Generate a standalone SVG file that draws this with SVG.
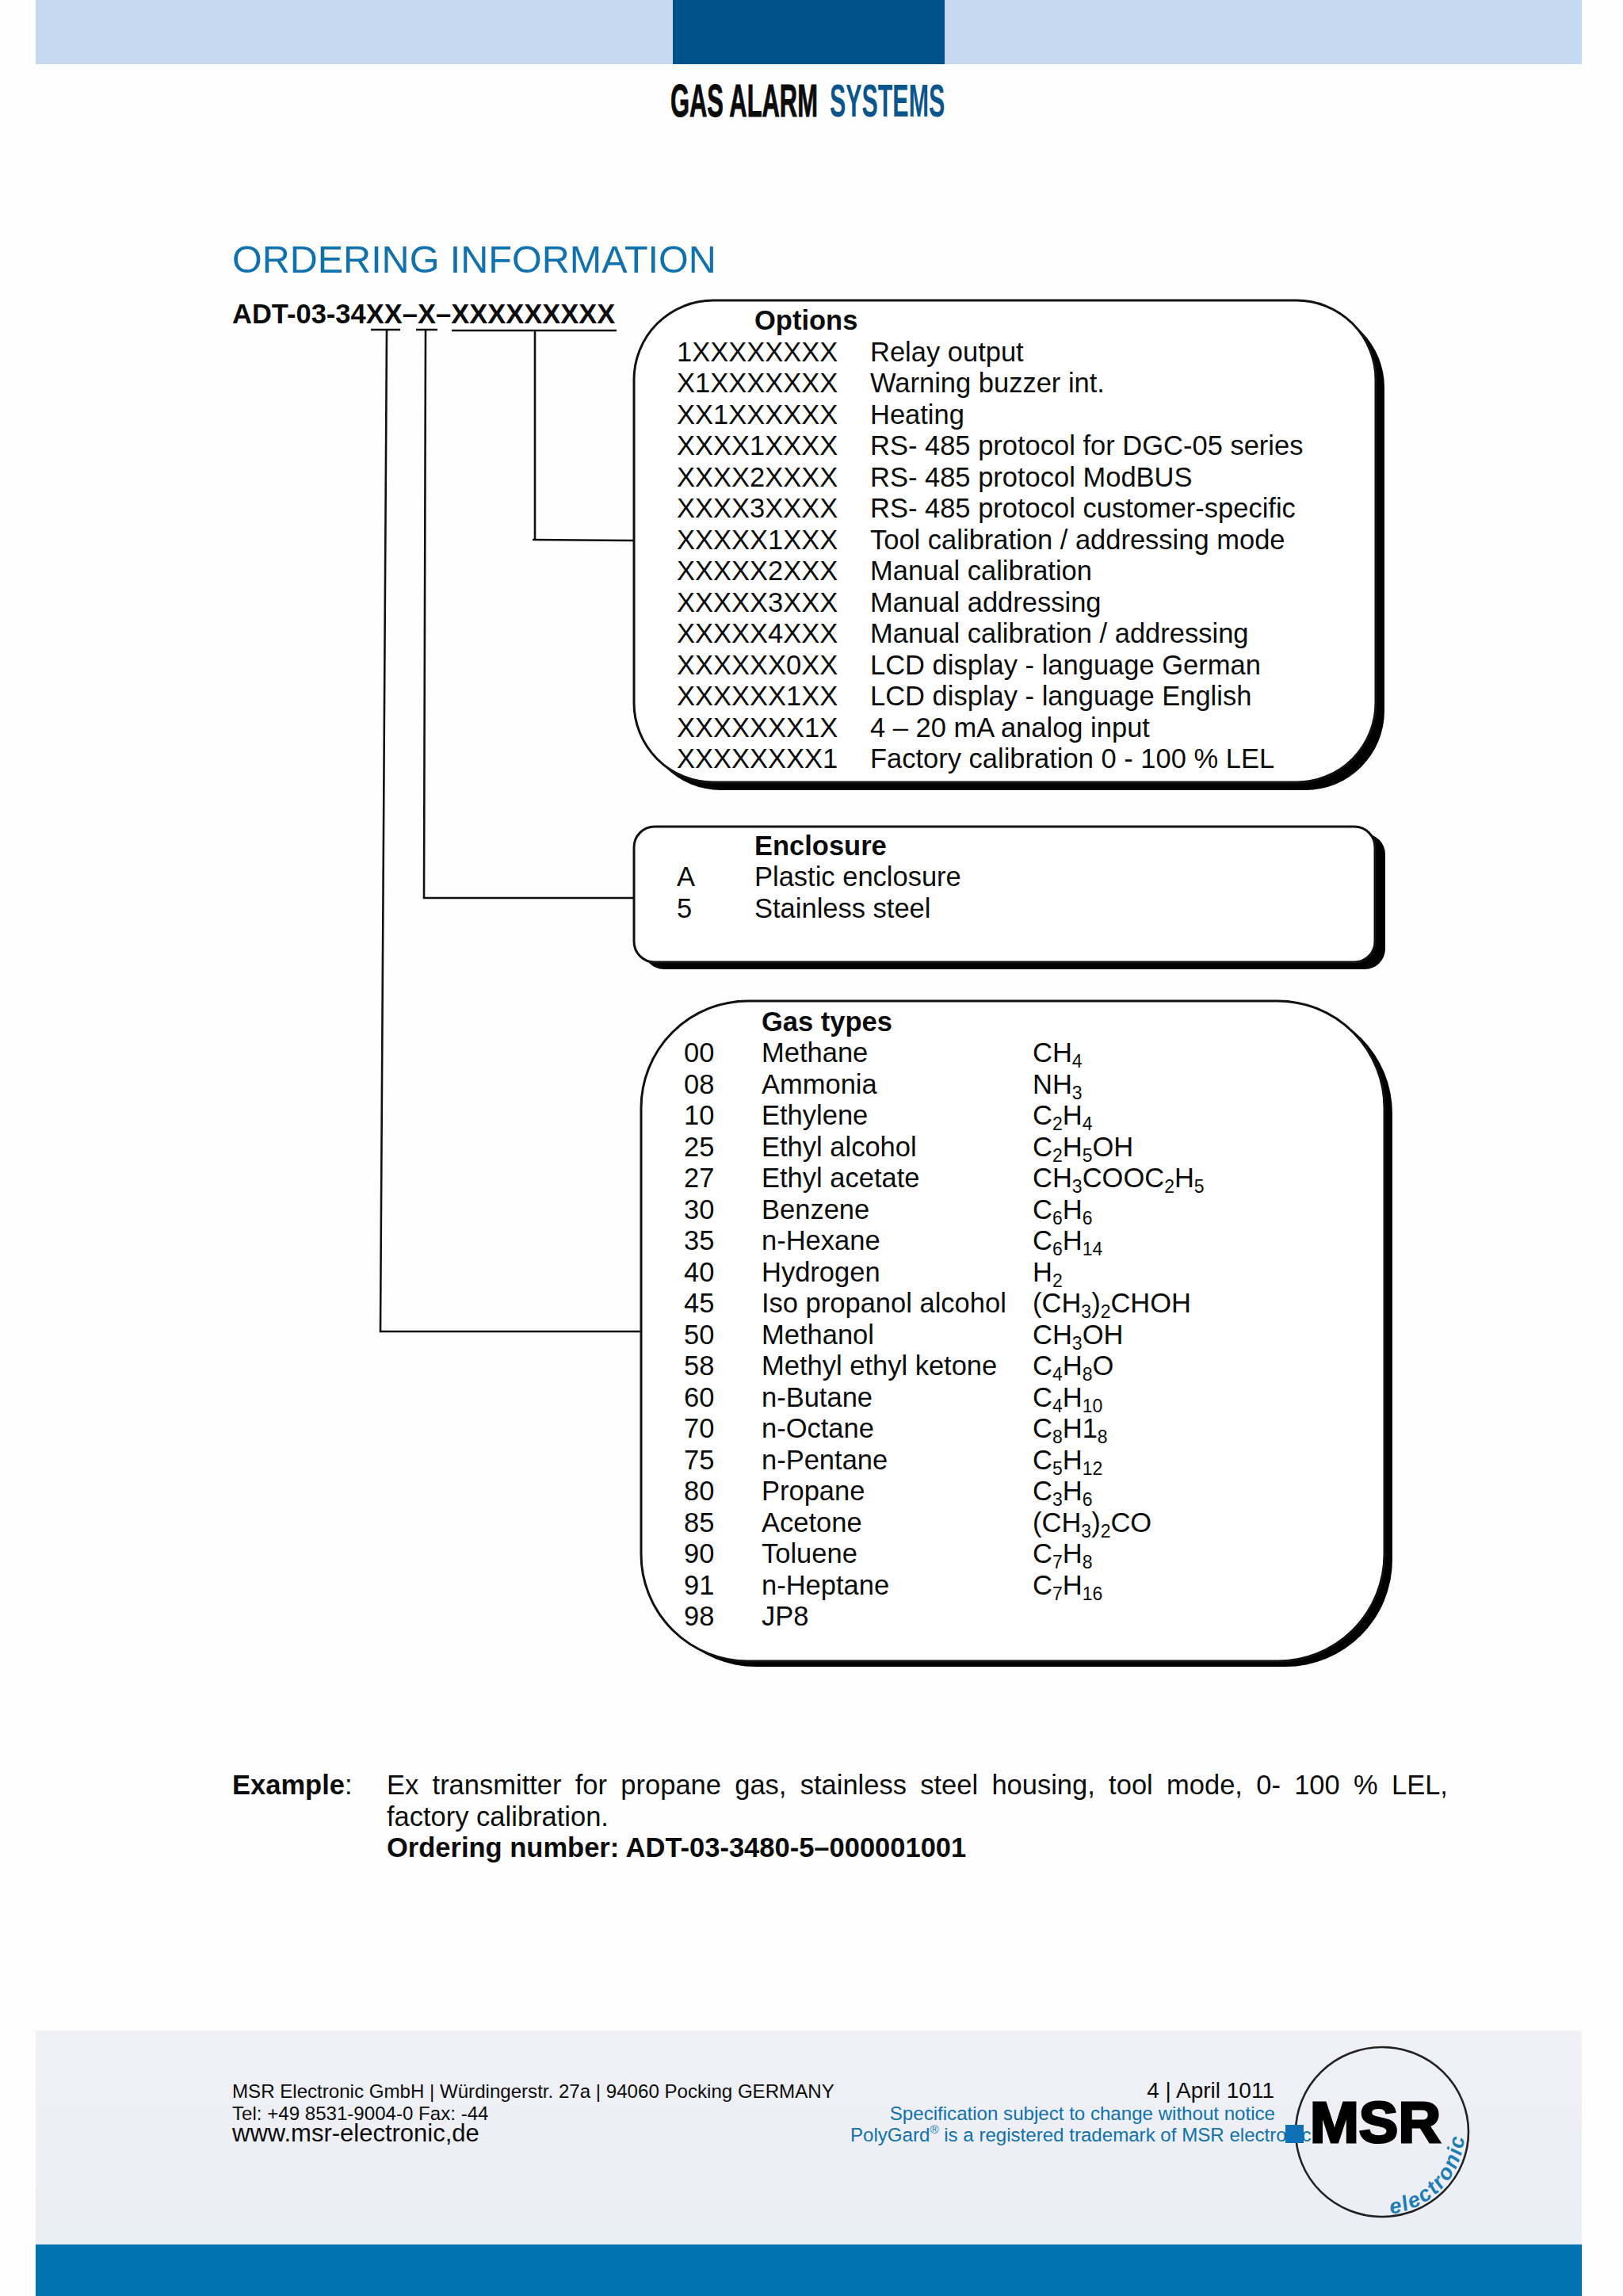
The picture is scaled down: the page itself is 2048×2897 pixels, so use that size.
<svg xmlns="http://www.w3.org/2000/svg" width="2048" height="2897" viewBox="0 0 2048 2897">
<defs>
<linearGradient id="fg" x1="0" y1="0" x2="0" y2="1"><stop offset="0" stop-color="#f0f1f6"/><stop offset="0.9" stop-color="#ebeef5"/><stop offset="1" stop-color="#e9f0f5"/></linearGradient>
<path id="arc" d="M1755 2793.4 A104 104 0 0 0 1846.4 2672"/>
</defs>
<style>
text{font-family:"Liberation Sans",Arial,sans-serif;fill:#0c0c0c}
.r{font-size:34.5px}
.b{font-size:34.5px;font-weight:700}
.s{font-size:23px}
.box{fill:#fff;stroke:#111;stroke-width:3}
.sh{fill:#000}
.ln{fill:none;stroke:#111;stroke-width:2.6}
.blue{fill:#0f71ad}
</style>
<rect width="2048" height="2897" fill="#fefefe"/>
<g id="header">
<rect x="45" y="0" width="1951" height="81" fill="#c5daf0"/>
<rect x="849" y="0" width="343" height="81" fill="#00538a"/>
<text transform="translate(846 147) scale(.55 1)" font-size="58" font-weight="700" textLength="338" lengthAdjust="spacingAndGlyphs" style="stroke:#0c0c0c;stroke-width:1">GAS ALARM</text>
<text transform="translate(1047 147) scale(.53 1)" font-size="58" font-weight="700" textLength="274" lengthAdjust="spacingAndGlyphs" style="fill:#0a568c">SYSTEMS</text>
</g>
<text id="title" x="293" y="344" font-size="48.5" class="blue">ORDERING INFORMATION</text>
<text id="code" x="293" y="408" class="b">ADT-03-34XX–X–XXXXXXXXX</text>
<g id="connectors">
<path class="ln" d="M468 416H505M525 416H552M570 417H778"/>
<path class="ln" d="M488 416L480 1680H810"/>
<path class="ln" d="M537 416L535 1133H800"/>
<path class="ln" d="M675 418V681M672 681L800 682"/>
</g>
<g id="options">
<rect class="sh" x="810" y="389" width="937" height="608" rx="100"/>
<rect class="box" x="800" y="379" width="936" height="608" rx="100"/>
<text class="b" x="952" y="416">Options</text>
<text class="r" x="854" y="456">1XXXXXXXX</text><text class="r" x="1098" y="456">Relay output</text>
<text class="r" x="854" y="495">X1XXXXXXX</text><text class="r" x="1098" y="495">Warning buzzer int.</text>
<text class="r" x="854" y="535">XX1XXXXXX</text><text class="r" x="1098" y="535">Heating</text>
<text class="r" x="854" y="574">XXXX1XXXX</text><text class="r" x="1098" y="574">RS- 485 protocol for DGC-05 series</text>
<text class="r" x="854" y="614">XXXX2XXXX</text><text class="r" x="1098" y="614">RS- 485 protocol ModBUS</text>
<text class="r" x="854" y="653">XXXX3XXXX</text><text class="r" x="1098" y="653">RS- 485 protocol customer-specific</text>
<text class="r" x="854" y="693">XXXXX1XXX</text><text class="r" x="1098" y="693">Tool calibration / addressing mode</text>
<text class="r" x="854" y="732">XXXXX2XXX</text><text class="r" x="1098" y="732">Manual calibration</text>
<text class="r" x="854" y="772">XXXXX3XXX</text><text class="r" x="1098" y="772">Manual addressing</text>
<text class="r" x="854" y="811">XXXXX4XXX</text><text class="r" x="1098" y="811">Manual calibration / addressing</text>
<text class="r" x="854" y="851">XXXXXX0XX</text><text class="r" x="1098" y="851">LCD display - language German</text>
<text class="r" x="854" y="890">XXXXXX1XX</text><text class="r" x="1098" y="890">LCD display - language English</text>
<text class="r" x="854" y="930">XXXXXXX1X</text><text class="r" x="1098" y="930">4 – 20 mA analog input</text>
<text class="r" x="854" y="969">XXXXXXXX1</text><text class="r" x="1098" y="969">Factory calibration 0 - 100 % LEL</text>
</g>
<g id="enclosure">
<rect class="sh" x="812" y="1052" width="936" height="171" rx="26"/>
<rect class="box" x="800" y="1043" width="935" height="171" rx="26"/>
<text class="b" x="952" y="1079">Enclosure</text>
<text class="r" x="854" y="1118">A</text><text class="r" x="952" y="1118">Plastic enclosure</text>
<text class="r" x="854" y="1158">5</text><text class="r" x="952" y="1158">Stainless steel</text>
</g>
<g id="gas-types">
<rect class="sh" x="819" y="1270" width="938" height="833" rx="135"/>
<rect class="box" x="809" y="1263" width="938" height="833" rx="135"/>
<g transform="translate(0 2)">
<text class="b" x="961" y="1299">Gas types</text>
<text class="r" x="863" y="1338">00</text><text class="r" x="961" y="1338">Methane</text><text class="r" x="1303" y="1338">CH<tspan class="s" dy="7">4</tspan></text>
<text class="r" x="863" y="1378">08</text><text class="r" x="961" y="1378">Ammonia</text><text class="r" x="1303" y="1378">NH<tspan class="s" dy="7">3</tspan></text>
<text class="r" x="863" y="1417">10</text><text class="r" x="961" y="1417">Ethylene</text><text class="r" x="1303" y="1417">C<tspan class="s" dy="7">2</tspan><tspan dy="-7">H</tspan><tspan class="s" dy="7">4</tspan></text>
<text class="r" x="863" y="1457">25</text><text class="r" x="961" y="1457">Ethyl alcohol</text><text class="r" x="1303" y="1457">C<tspan class="s" dy="7">2</tspan><tspan dy="-7">H</tspan><tspan class="s" dy="7">5</tspan><tspan dy="-7">OH</tspan></text>
<text class="r" x="863" y="1496">27</text><text class="r" x="961" y="1496">Ethyl acetate</text><text class="r" x="1303" y="1496">CH<tspan class="s" dy="7">3</tspan><tspan dy="-7">COOC</tspan><tspan class="s" dy="7">2</tspan><tspan dy="-7">H</tspan><tspan class="s" dy="7">5</tspan></text>
<text class="r" x="863" y="1536">30</text><text class="r" x="961" y="1536">Benzene</text><text class="r" x="1303" y="1536">C<tspan class="s" dy="7">6</tspan><tspan dy="-7">H</tspan><tspan class="s" dy="7">6</tspan></text>
<text class="r" x="863" y="1575">35</text><text class="r" x="961" y="1575">n-Hexane</text><text class="r" x="1303" y="1575">C<tspan class="s" dy="7">6</tspan><tspan dy="-7">H</tspan><tspan class="s" dy="7">14</tspan></text>
<text class="r" x="863" y="1615">40</text><text class="r" x="961" y="1615">Hydrogen</text><text class="r" x="1303" y="1615">H<tspan class="s" dy="7">2</tspan></text>
<text class="r" x="863" y="1654">45</text><text class="r" x="961" y="1654">Iso propanol alcohol</text><text class="r" x="1303" y="1654">(CH<tspan class="s" dy="7">3</tspan><tspan dy="-7">)</tspan><tspan class="s" dy="7">2</tspan><tspan dy="-7">CHOH</tspan></text>
<text class="r" x="863" y="1694">50</text><text class="r" x="961" y="1694">Methanol</text><text class="r" x="1303" y="1694">CH<tspan class="s" dy="7">3</tspan><tspan dy="-7">OH</tspan></text>
<text class="r" x="863" y="1733">58</text><text class="r" x="961" y="1733">Methyl ethyl ketone</text><text class="r" x="1303" y="1733">C<tspan class="s" dy="7">4</tspan><tspan dy="-7">H</tspan><tspan class="s" dy="7">8</tspan><tspan dy="-7">O</tspan></text>
<text class="r" x="863" y="1773">60</text><text class="r" x="961" y="1773">n-Butane</text><text class="r" x="1303" y="1773">C<tspan class="s" dy="7">4</tspan><tspan dy="-7">H</tspan><tspan class="s" dy="7">10</tspan></text>
<text class="r" x="863" y="1812">70</text><text class="r" x="961" y="1812">n-Octane</text><text class="r" x="1303" y="1812">C<tspan class="s" dy="7">8</tspan><tspan dy="-7">H1</tspan><tspan class="s" dy="7">8</tspan></text>
<text class="r" x="863" y="1852">75</text><text class="r" x="961" y="1852">n-Pentane</text><text class="r" x="1303" y="1852">C<tspan class="s" dy="7">5</tspan><tspan dy="-7">H</tspan><tspan class="s" dy="7">12</tspan></text>
<text class="r" x="863" y="1891">80</text><text class="r" x="961" y="1891">Propane</text><text class="r" x="1303" y="1891">C<tspan class="s" dy="7">3</tspan><tspan dy="-7">H</tspan><tspan class="s" dy="7">6</tspan></text>
<text class="r" x="863" y="1931">85</text><text class="r" x="961" y="1931">Acetone</text><text class="r" x="1303" y="1931">(CH<tspan class="s" dy="7">3</tspan><tspan dy="-7">)</tspan><tspan class="s" dy="7">2</tspan><tspan dy="-7">CO</tspan></text>
<text class="r" x="863" y="1970">90</text><text class="r" x="961" y="1970">Toluene</text><text class="r" x="1303" y="1970">C<tspan class="s" dy="7">7</tspan><tspan dy="-7">H</tspan><tspan class="s" dy="7">8</tspan></text>
<text class="r" x="863" y="2010">91</text><text class="r" x="961" y="2010">n-Heptane</text><text class="r" x="1303" y="2010">C<tspan class="s" dy="7">7</tspan><tspan dy="-7">H</tspan><tspan class="s" dy="7">16</tspan></text>
<text class="r" x="863" y="2049">98</text><text class="r" x="961" y="2049">JP8</text>
</g>
</g>
<g id="example">
<text class="r" x="293" y="2264"><tspan font-weight="700">Example</tspan>:</text>
<text class="r" x="488" y="2264" style="word-spacing:7.7px">Ex transmitter for propane gas, stainless steel housing, tool mode, 0- 100 % LEL,</text>
<text class="r" x="488" y="2304">factory calibration.</text>
<text class="b" x="488" y="2343">Ordering number: ADT-03-3480-5–000001001</text>
</g>
<g id="footer">
<rect x="45" y="2562" width="1951" height="270" fill="url(#fg)"/>
<rect x="45" y="2832" width="1951" height="65" fill="#0071b1"/>
<text x="293" y="2647" font-size="24.1">MSR Electronic GmbH | Würdingerstr. 27a | 94060 Pocking GERMANY</text>
<text x="293" y="2675" font-size="24.1">Tel: +49 8531-9004-0 Fax: -44</text>
<text x="293" y="2702" font-size="31">www.msr-electronic,de</text>
<text x="1608" y="2647" font-size="28" text-anchor="end">4 | April 1011</text>
<text class="blue" x="1609" y="2675" font-size="24.1" text-anchor="end">Specification subject to change without notice</text>
<text class="blue" x="1073" y="2702" font-size="24.1">PolyGard<tspan font-size="15" dy="-10">®</tspan><tspan dy="10"> is a registered trademark of MSR electronic</tspan></text>
</g>
<g id="logo">
<ellipse cx="1744" cy="2690" rx="109" ry="107" fill="none" stroke="#222" stroke-width="2.6"/>
<rect x="1622" y="2681" width="23" height="23" fill="#0f71b5"/>
<text x="1653" y="2703" font-size="72" font-weight="700" textLength="165" lengthAdjust="spacingAndGlyphs" style="fill:#000;stroke:#000;stroke-width:3">MSR</text>
<text font-size="27" font-weight="700" font-style="italic" style="fill:#1d7db5;letter-spacing:2px"><textPath href="#arc">electronic</textPath></text>
</g>
</svg>
